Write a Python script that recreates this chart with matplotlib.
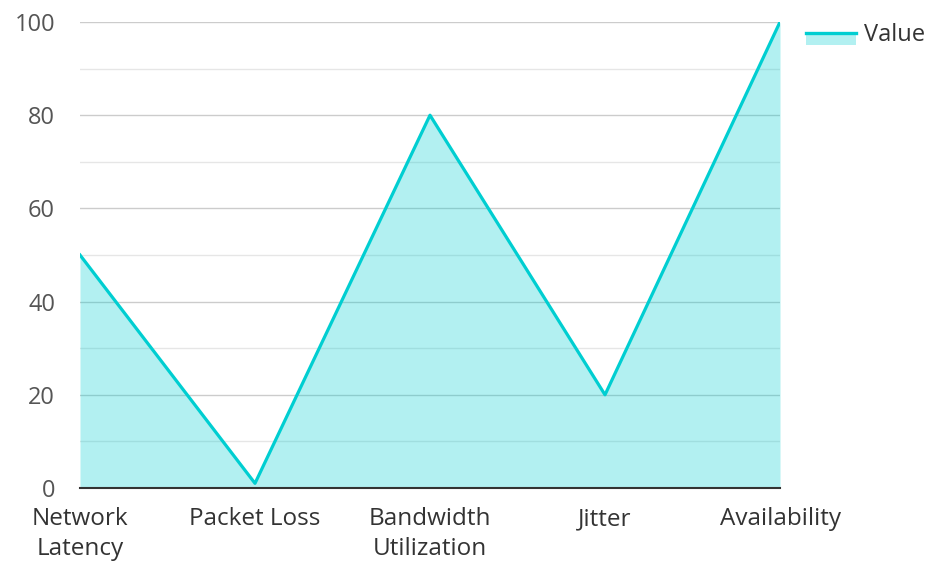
import matplotlib.pyplot as plt
from matplotlib.legend_handler import HandlerBase
from matplotlib.lines import Line2D
from matplotlib.patches import Rectangle
from matplotlib.ticker import MultipleLocator

plt.rcParams['font.family'] = ['Open Sans', 'DejaVu Sans']

categories = ['Network\nLatency', 'Packet Loss', 'Bandwidth\nUtilization', 'Jitter', 'Availability']
values = [50, 1, 80, 20, 100]

line_color = '#00ced1'
fill_alpha = 0.3


class LineOverFill(HandlerBase):
    # legend key: a thick line with a filled band under it
    def create_artists(self, legend, orig_handle, xdescent, ydescent,
                       width, height, fontsize, trans):
        y_mid = height * 0.5 - ydescent
        band_h = height * 0.75
        band = Rectangle((-xdescent, y_mid - band_h), width, band_h,
                         facecolor=line_color, alpha=fill_alpha, edgecolor='none',
                         transform=trans)
        line = Line2D([-xdescent, width - xdescent], [y_mid, y_mid],
                      color=line_color, linewidth=2.4, transform=trans)
        return [band, line]


fig = plt.figure(figsize=(9.3, 5.62), dpi=100)
ax = fig.add_axes([80 / 930, 74 / 562, 700 / 930, 466 / 562])

x = range(len(categories))
ax.fill_between(x, values, 0, color=line_color, alpha=fill_alpha, linewidth=0, zorder=2)
ax.plot(x, values, color=line_color, linewidth=2.3, zorder=3)

ax.set_xlim(0, len(categories) - 1)
ax.set_ylim(0, 100)
ax.set_xticks(list(x))
ax.set_xticklabels(categories, fontsize=17.5, color='#333333', linespacing=1.3)
ax.yaxis.set_major_locator(MultipleLocator(20))
ax.yaxis.set_minor_locator(MultipleLocator(10))
ax.tick_params(axis='y', which='both', length=0, pad=18, labelsize=17, labelcolor='#555555')
ax.tick_params(axis='x', length=0, pad=14)

ax.grid(axis='y', which='major', color='#cccccc', linewidth=1, zorder=1)
ax.grid(axis='y', which='minor', color='#e6e6e6', linewidth=1, zorder=1)
ax.set_axisbelow(True)

for side in ['top', 'right', 'left']:
    ax.spines[side].set_visible(False)
ax.spines['bottom'].set_color('#333333')
ax.spines['bottom'].set_linewidth(1.5)
ax.spines['bottom'].set_zorder(4)

key = Line2D([], [], color=line_color)
fig.legend([key], ['Value'], handler_map={Line2D: LineOverFill()},
           loc='upper left', bbox_to_anchor=(806 / 930, 1 - 23 / 562),
           frameon=False, fontsize=17, handlelength=2.1, handletextpad=0.35,
           borderpad=0, borderaxespad=0, labelcolor='#333333')

fig.savefig('out.png', dpi=100)
